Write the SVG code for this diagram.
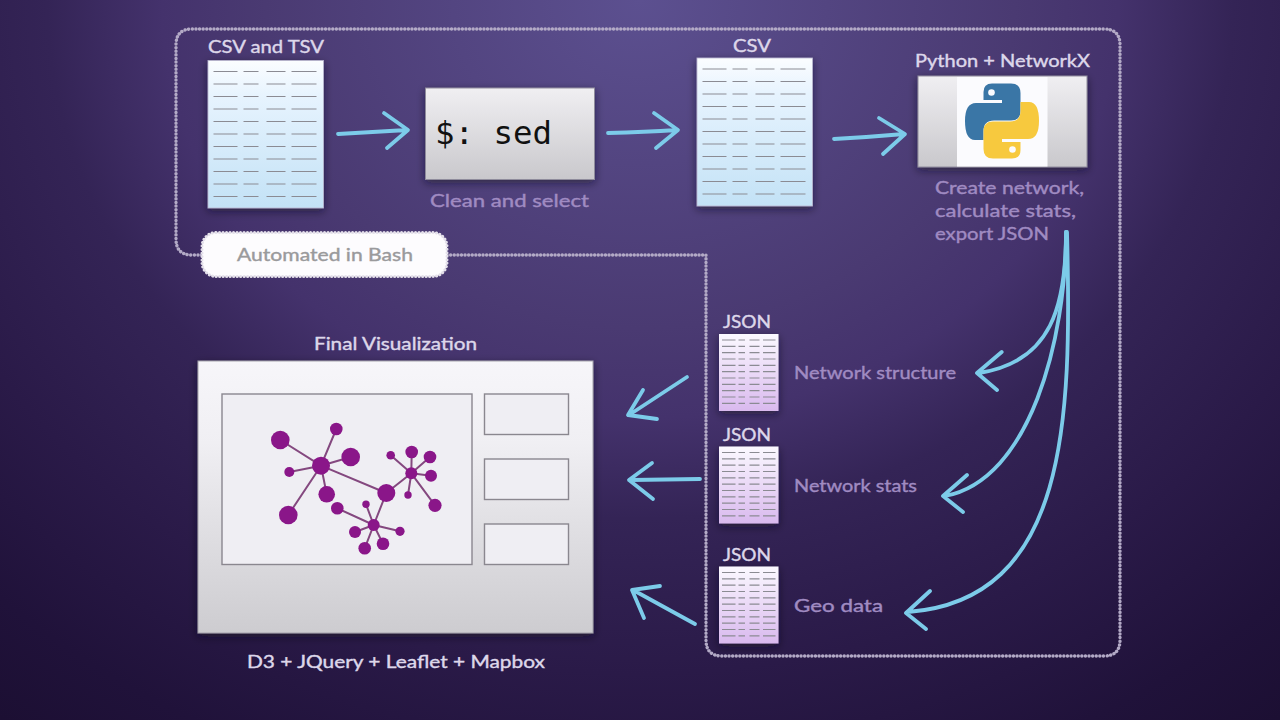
<svg xmlns="http://www.w3.org/2000/svg" xmlns:xlink="http://www.w3.org/1999/xlink" width="1280" height="720" viewBox="0 0 1280 720">
<style>
text{font-family:"Lato","Open Sans","Liberation Sans",sans-serif;font-size:18px}
.t{fill:#ddd7ea;stroke:#ddd7ea;stroke-width:.4;font-size:17.5px}
.c{fill:#a08bc2;stroke:#a08bc2;stroke-width:.4;font-size:18px}
.a{fill:none;stroke:#7ccbe9;stroke-width:3.8;stroke-linecap:round;stroke-linejoin:round}
.b{fill:none;stroke:#b3aac6;stroke-width:3.4;stroke-dasharray:.1 3.5;stroke-linecap:round}
.r{fill:none;stroke:#8b8b93;stroke-width:1.1}
.s{fill:#efeef3;stroke:#8a878f;stroke-width:1.4}
.n{fill:#8a1689}
.e{stroke:#84487f;stroke-width:2;fill:none}
</style>
<defs>
<radialGradient id="bg" gradientUnits="userSpaceOnUse" cx="640" cy="0" r="1040" gradientTransform="translate(640 0) scale(1 .875) translate(-640 0)">
<stop offset="0" stop-color="#5c5090"/><stop offset=".36" stop-color="#4a3a72"/><stop offset=".46" stop-color="#44326c"/><stop offset=".57" stop-color="#342456"/><stop offset=".74" stop-color="#2a1a48"/><stop offset=".9" stop-color="#20123a"/><stop offset="1" stop-color="#1c0f33"/>
</radialGradient>
<linearGradient id="blue" x1="0" y1="0" x2="0" y2="1"><stop offset="0" stop-color="#fbfdff"/><stop offset=".25" stop-color="#e6f3fe"/><stop offset="1" stop-color="#c3e2f6"/></linearGradient>
<linearGradient id="lil" x1="0" y1="0" x2="0" y2="1"><stop offset="0" stop-color="#fbf9ff"/><stop offset="1" stop-color="#d9b9ee"/></linearGradient>
<linearGradient id="box" x1="0" y1="0" x2="0" y2="1"><stop offset="0" stop-color="#f0eff2"/><stop offset="1" stop-color="#c9c8cc"/></linearGradient>
<linearGradient id="fin" x1="0" y1="0" x2="0" y2="1"><stop offset="0" stop-color="#f7f6fa"/><stop offset=".3" stop-color="#f0eff3"/><stop offset="1" stop-color="#cdccd0"/></linearGradient>
<filter id="sh" x="-15%" y="-15%" width="130%" height="135%"><feDropShadow dx="0" dy="3" stdDeviation="4" flood-color="#120824" flood-opacity=".55"/></filter>
<path id="row" class="r" d="M0 0h24M30 0h15M53 0h19M78 0h25"/>
<g id="rows">
<use xlink:href="#row" y="0"/><use xlink:href="#row" y="12.5"/><use xlink:href="#row" y="25"/><use xlink:href="#row" y="37.5"/><use xlink:href="#row" y="50"/><use xlink:href="#row" y="62.5"/><use xlink:href="#row" y="75"/><use xlink:href="#row" y="87.5"/><use xlink:href="#row" y="100"/><use xlink:href="#row" y="112.5"/><use xlink:href="#row" y="125"/>
</g>
<path id="srow" class="r" d="M0 0h13.5M16.5 0h6.5M27.5 0h10M41 0h12.5"/>
<g id="srows">
<use xlink:href="#srow" y="0"/><use xlink:href="#srow" y="6.33"/><use xlink:href="#srow" y="12.66"/><use xlink:href="#srow" y="19"/><use xlink:href="#srow" y="25.33"/><use xlink:href="#srow" y="31.66"/><use xlink:href="#srow" y="38"/><use xlink:href="#srow" y="44.33"/><use xlink:href="#srow" y="50.66"/><use xlink:href="#srow" y="57"/><use xlink:href="#srow" y="63.33"/>
</g>
</defs>
<rect id="background" width="1280" height="720" fill="url(#bg)"/>

<g id="automation-border">
<path class="b" d="M447 255H706V640Q706 656 722 656H1104Q1120 656 1120 640V45Q1120 29 1104 29H192Q176 29 176 45V239Q176 255 192 255H202"/>
</g>

<g id="automated-label">
<rect x="202" y="232.500" width="245" height="44" rx="14" fill="#fdfcfe" stroke="#e4e0ea" stroke-width="3" stroke-dasharray=".1 3.400" stroke-linecap="round"/>
<text x="237" y="261" fill="#9a9a9c" stroke="#9a9a9c" stroke-width=".4" textLength="176" lengthAdjust="spacingAndGlyphs">Automated in Bash</text>
</g>

<g id="csv-tsv">
<text class="t" x="208" y="53" textLength="116" lengthAdjust="spacingAndGlyphs">CSV and TSV</text>
<rect x="208" y="60.500" width="115.500" height="147.500" fill="url(#blue)" stroke="#b9b6cf" stroke-width=".8" filter="url(#sh)"/>
<use xlink:href="#rows" x="213.500" y="71.500"/>
</g>

<g id="sed">
<rect x="425.500" y="88" width="169" height="91.500" fill="url(#box)" stroke="#8f8c9c" stroke-width="1" filter="url(#sh)"/>
<text x="435" y="144" style="font-family:'DejaVu Sans Mono','Liberation Mono',monospace;font-size:32.400px" fill="#111">$: sed</text>
<text class="c" x="430" y="207" textLength="159" lengthAdjust="spacingAndGlyphs">Clean and select</text>
</g>

<g id="csv">
<text class="t" x="733" y="51.500" textLength="38" lengthAdjust="spacingAndGlyphs">CSV</text>
<rect x="697" y="58" width="115.500" height="148" fill="url(#blue)" stroke="#b9b6cf" stroke-width=".8" filter="url(#sh)"/>
<use xlink:href="#rows" x="702.500" y="69"/>
</g>

<g id="python">
<text class="t" x="915" y="66.500" textLength="175" lengthAdjust="spacingAndGlyphs">Python + NetworkX</text>
<rect x="918" y="76" width="169" height="91" fill="url(#box)" stroke="#8f8c9c" stroke-width="1" filter="url(#sh)"/>
<rect x="957" y="77" width="90.500" height="89.500" fill="#fbfbfe"/>
<path fill="#3a76a6" d="M992 83.500H1011Q1020.500 83.500 1020.500 93V111Q1020.500 120.500 1011 120.500H994Q983.500 120.500 983.500 131V140H975Q965 140 965 121Q965 103 976 103H1002V100H983.500V92Q983.500 83.500 992 83.500Z"/>
<path fill="#f7c93e" d="M1012 158.500H993Q983.500 158.500 983.500 149V131Q983.500 121.500 993 121.500H1010Q1020.500 121.500 1020.500 111V102H1029Q1039 102 1039 121Q1039 139 1028 139H1002V142H1020.500V150Q1020.500 158.500 1012 158.500Z"/>
<circle cx="991.500" cy="92.500" r="3.300" fill="#fbfbfe"/><circle cx="1012.500" cy="149.500" r="3.300" fill="#fbfbfe"/>
<text class="c" x="935" y="194" textLength="149" lengthAdjust="spacingAndGlyphs">Create network,</text>
<text class="c" x="935" y="217" textLength="141" lengthAdjust="spacingAndGlyphs">calculate stats,</text>
<text class="c" x="935" y="240" textLength="114" lengthAdjust="spacingAndGlyphs">export JSON</text>
</g>

<g id="json-structure">
<text class="t" x="723" y="328" textLength="48" lengthAdjust="spacingAndGlyphs">JSON</text>
<rect x="719" y="334" width="59.500" height="77" fill="url(#lil)" filter="url(#sh)"/>
<use xlink:href="#srows" x="722" y="340"/>
<text class="c" x="794" y="379" textLength="162" lengthAdjust="spacingAndGlyphs">Network structure</text>
</g>
<g id="json-stats">
<text class="t" x="723" y="440.500" textLength="48" lengthAdjust="spacingAndGlyphs">JSON</text>
<rect x="719" y="446.500" width="59.500" height="77" fill="url(#lil)" filter="url(#sh)"/>
<use xlink:href="#srows" x="722" y="452.500"/>
<text class="c" x="794" y="492" textLength="123" lengthAdjust="spacingAndGlyphs">Network stats</text>
</g>
<g id="json-geo">
<text class="t" x="723" y="560.500" textLength="48" lengthAdjust="spacingAndGlyphs">JSON</text>
<rect x="719" y="566.500" width="59.500" height="77" fill="url(#lil)" filter="url(#sh)"/>
<use xlink:href="#srows" x="722" y="572.500"/>
<text class="c" x="794" y="612" textLength="89" lengthAdjust="spacingAndGlyphs">Geo data</text>
</g>

<g id="final-visualization">
<text class="t" x="314" y="349.500" textLength="163" lengthAdjust="spacingAndGlyphs">Final Visualization</text>
<rect x="198" y="361" width="395" height="272" fill="url(#fin)" stroke="#a5a3ac" stroke-width="1" filter="url(#sh)"/>
<rect class="s" x="222" y="394" width="250" height="170.500"/>
<rect class="s" x="484.500" y="394" width="84" height="40.500"/>
<rect class="s" x="484.500" y="459" width="84" height="40.500"/>
<rect class="s" x="484.500" y="524" width="84" height="40.500"/>
<g id="network">
<path class="e" d="M321 465.700L280.300 440M321 465.700L336.300 429M321 465.700L350.700 457M321 465.700L289.300 472M321 465.700L326.700 494.300M321 465.700L288.300 515M321 465.700L386.300 493M386.300 493L411.300 473.300M386.300 493L373.700 525M411.300 473.300L390.700 455.300M411.300 473.300L411.700 452M411.300 473.300L430 457M411.300 473.300L431 475.700M411.300 473.300L408 495M411.300 473.300L435 505.300M373.700 525L337.300 508.300M373.700 525L366 504.300M373.700 525L400 531.300M373.700 525L355 532M373.700 525L364.700 548.300M373.700 525L383 543.700"/>
<circle class="n" cx="321" cy="465.700" r="9"/><circle class="n" cx="280.300" cy="440" r="9.300"/><circle class="n" cx="336.300" cy="429" r="6.300"/><circle class="n" cx="350.700" cy="457" r="9.300"/><circle class="n" cx="289.300" cy="472" r="5"/><circle class="n" cx="326.700" cy="494.300" r="8.300"/><circle class="n" cx="288.300" cy="515" r="9.300"/>
<circle class="n" cx="386.300" cy="493" r="9"/><circle class="n" cx="411.300" cy="473.300" r="6"/><circle class="n" cx="390.700" cy="455.300" r="4.300"/><circle class="n" cx="411.700" cy="452" r="6.300"/><circle class="n" cx="430" cy="457" r="6.300"/><circle class="n" cx="431" cy="475.700" r="6"/><circle class="n" cx="408" cy="495" r="3.700"/><circle class="n" cx="435" cy="505.300" r="6.600"/>
<circle class="n" cx="373.700" cy="525" r="6"/><circle class="n" cx="337.300" cy="508.300" r="6.300"/><circle class="n" cx="366" cy="504.300" r="3.700"/><circle class="n" cx="400" cy="531.300" r="4.600"/><circle class="n" cx="355" cy="532" r="6"/><circle class="n" cx="364.700" cy="548.300" r="6.300"/><circle class="n" cx="383" cy="543.700" r="6.300"/>
</g>
<text class="t" x="247" y="668" textLength="298" lengthAdjust="spacingAndGlyphs">D3 + JQuery + Leaflet + Mapbox</text>
</g>

<g id="connectors">
<path class="a" d="M338 134Q375 132 407 130M384 113L408 130L387 148"/>
<path class="a" d="M608 133Q645 132 677 130M654 113L678 130L656 148"/>
<path class="a" d="M834 139Q870 137 904 134M879 118L905 134L883 154"/>
<path class="a" d="M1066 232C1066 305 1052 362 979 373M1001.700 352L977 373L997 390"/>
<path class="a" d="M1066 232C1066 340 1030 480 945 496M967 475L943 496L963 512"/>
<path class="a" d="M1067 232C1072 420 1068 600 908 612M930 591L906 613L926 629"/>
<path class="a" d="M687 377L629 415M643 390L628 415L657 419"/>
<path class="a" d="M700 479L631 480M652 463L629 480L653 499"/>
<path class="a" d="M695 624L633 590M660 586L632 590L644 618"/>
</g>
</svg>
